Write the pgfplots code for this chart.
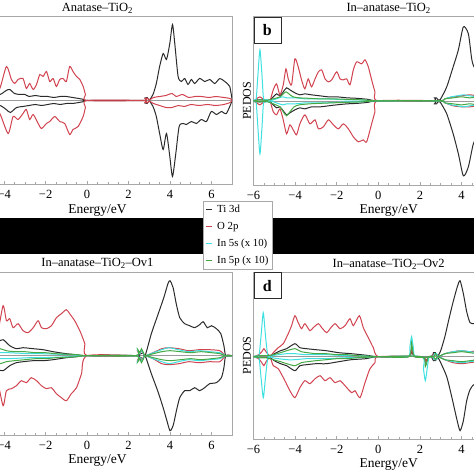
\documentclass[border=0pt]{standalone}
\usepackage{pgfplots}
\pgfplotsset{compat=1.18}
\usepackage{fontspec}
\setmainfont{Liberation Serif}

\definecolor{tiblack}{HTML}{2B2B2B}
\definecolor{ored}{HTML}{D0434F}
\definecolor{incyan}{HTML}{3FE0E0}
\definecolor{ingreen}{HTML}{45A845}
\definecolor{framegray}{HTML}{A8A8A8}
\definecolor{zerogray}{HTML}{9A9A9A}

\tikzset{
  panelbox/.style={draw=tiblack, line width=0.8pt, fill=white, anchor=north west,
    minimum width=27pt, minimum height=26pt, inner sep=0pt,
    font=\bfseries\fontsize{16}{16}\selectfont},
}
\pgfplotsset{
  ti/.style={draw=tiblack, line width=1pt, smooth, tension=0.4},
  op/.style={draw=ored, line width=1pt, smooth, tension=0.4},
  ins/.style={draw=incyan, line width=1pt, smooth, tension=0.4},
  inp/.style={draw=ingreen, line width=1pt, smooth, tension=0.4},
  zero/.style={draw=zerogray, line width=0.5pt},
  every axis title/.style={at={(axis description cs:0.5,1)}, anchor=base, yshift=5pt,
    font=\fontsize{12.5}{14}\selectfont},
  pedos/.style={
    scale only axis,
    xmin=-6, xmax=7,
    axis line style={draw=framegray, line width=0.8pt},
    ytick=\empty,
    xtick={-6,-4,...,6},
    xticklabels={−6,−4,−2,0,2,4,6},
    minor x tick num=3,
    tick align=inside,
    xtick pos=left,
    major tick length=3pt, minor tick length=2pt,
    every tick/.style={draw=framegray, line width=0.6pt},
    xticklabel style={font=\fontsize{12.5}{13}\selectfont, anchor=center, yshift=-10pt},
    xlabel={Energy/eV},
    xlabel style={font=\fontsize{13.5}{14}\selectfont, at={(axis description cs:0.5,0)}, anchor=center, yshift=-26pt},
    ylabel={PEDOS},
    ylabel style={font=\fontsize{12}{13}\selectfont, at={(axis description cs:-0.024,0.5)}, anchor=center},
    clip=true,
  },
}

\begin{document}
\begin{tikzpicture}
\useasboundingbox (0pt,0pt) rectangle (474pt,474pt);
\clip (0pt,0pt) rectangle (474pt,474pt);
\fill[black] (0pt,220pt) rectangle (474pt,256pt);

% ---------- (b) In-doped anatase ----------
\begin{axis}[pedos, at={(253.5pt,289pt)}, anchor=south west,
  width=270.4pt, height=168.3pt, ymin=-84.15, ymax=84.15,
  title={In--anatase--TiO\textsubscript{2}}]
\addplot[zero] coordinates {(-6,0) (7,0)};
% Ti 3d
\addplot[ti] coordinates {(-6,0) (-5.8,1) (-5.6,1) (-5.4,0.5) (-5.2,1) (-5.05,4) (-4.89,7) (-4.73,5) (-4.57,9) (-4.41,13) (-4.25,11) (-4.01,8) (-3.77,6) (-3.53,7) (-3.21,6) (-2.80,5) (-2.40,4) (-2.0,4) (-1.5,3) (-1.0,2.5) (-0.5,1.5) (0,0) (2.6,0) (2.7,3) (2.8,3) (2.9,0.5) (3.0,2) (3.29,14) (3.60,34) (3.85,51) (4.09,74) (4.33,67) (4.49,42) (4.6,34) (4.8,30) (5.0,33) (5.3,28) (5.6,31) (5.9,27) (6.2,29) (6.5,24) (6.8,15) (7,0)};
\addplot[ti] coordinates {(-6,0) (-5.8,-1) (-5.6,-1) (-5.4,-0.5) (-5.2,-1) (-5.05,-4) (-4.89,-7) (-4.73,-6) (-4.57,-10) (-4.41,-14) (-4.25,-12) (-4.01,-9) (-3.77,-7) (-3.53,-8) (-3.21,-6) (-2.80,-6) (-2.40,-5) (-2.0,-4) (-1.5,-3) (-1.0,-2.5) (-0.5,-1.5) (0,0) (2.6,0) (2.7,-3) (2.8,-3) (2.9,-0.5) (3.0,-2) (3.29,-13) (3.60,-33) (3.85,-53) (4.09,-75) (4.33,-66) (4.57,-43) (4.8,-36) (5.1,-38) (5.4,-33) (5.7,-35) (6.0,-30) (6.3,-32) (6.6,-22) (6.85,-10) (7,0)};
% O 2p
\addplot[op] coordinates {(-6,0) (-5.85,2) (-5.70,4) (-5.55,2) (-5.40,0.5) (-5.20,1) (-5.05,11) (-4.89,17) (-4.73,6) (-4.57,16) (-4.44,32) (-4.33,22) (-4.17,16) (-4.01,42) (-3.85,34) (-3.69,21) (-3.53,12) (-3.37,22) (-3.21,14) (-3.04,22) (-2.88,29) (-2.72,31) (-2.56,22) (-2.40,19) (-2.24,21) (-2.0,29) (-1.84,22) (-1.68,21) (-1.52,22) (-1.36,16) (-1.20,31) (-1.04,39) (-0.80,37) (-0.64,41) (-0.48,34) (-0.32,21) (-0.16,9) (0,0) (2.9,0) (3.2,2) (3.6,4) (4.0,5) (4.4,6) (4.8,5) (5.2,6) (5.6,5) (6.0,6) (6.4,4) (6.8,2) (7,0)};
\addplot[op] coordinates {(-6,0) (-5.85,-2) (-5.70,-4) (-5.55,-2) (-5.40,-0.5) (-5.20,-1) (-5.05,-11) (-4.89,-14) (-4.73,-8) (-4.57,-19) (-4.41,-33) (-4.25,-24) (-4.09,-29) (-3.93,-34) (-3.77,-23) (-3.53,-14) (-3.29,-23) (-3.04,-19) (-2.88,-28) (-2.64,-26) (-2.40,-19) (-2.16,-24) (-1.92,-28) (-1.68,-23) (-1.44,-28) (-1.20,-36) (-0.96,-41) (-0.72,-39) (-0.56,-41) (-0.32,-23) (-0.16,-11) (0,0) (2.9,0) (3.2,-2) (3.6,-5) (4.0,-6) (4.4,-6) (4.8,-5) (5.2,-6) (5.6,-5) (6.0,-5) (6.4,-4) (6.8,-2) (7,0)};
% In 5s (x 10)
\addplot[ins] coordinates {(-6,0) (-5.88,0) (-5.79,25) (-5.69,51) (-5.59,25) (-5.50,0) (-5.2,0) (-4.9,2) (-4.6,4) (-4.4,3) (-4.0,3) (-3.5,2) (-3.0,2) (-2.5,2) (-2.0,1.5) (-1.5,1) (-1.0,1) (-0.5,0.5) (0,0) (2.9,0) (3.2,2) (3.5,4) (3.8,5) (4.1,6) (4.4,5) (4.8,4) (5.2,4) (5.6,3) (6.0,3) (6.4,2) (6.8,1) (7,0)};
\addplot[ins] coordinates {(-6,0) (-5.88,0) (-5.79,-26) (-5.69,-53) (-5.59,-26) (-5.50,0) (-5.2,0) (-4.9,-2) (-4.6,-4) (-4.4,-3) (-4.0,-3) (-3.5,-2) (-3.0,-2) (-2.5,-2) (-2.0,-1.5) (-1.5,-1) (-1.0,-1) (-0.5,-0.5) (0,0) (2.9,0) (3.2,-2) (3.5,-4) (3.8,-5) (4.1,-6) (4.4,-5) (4.8,-4) (5.2,-4) (5.6,-3) (6.0,-3) (6.4,-2) (6.8,-1) (7,0)};
% In 5p (x 10)
\addplot[inp] coordinates {(-6,0) (-5.7,1) (-5.4,0.5) (-5.05,2) (-4.73,4) (-4.57,7) (-4.44,9) (-4.3,7) (-4.1,4) (-3.8,3) (-3.3,2.5) (-2.8,2) (-2.2,2) (-1.5,1.5) (-0.8,1) (0,0) (2.9,0) (3.2,2) (3.6,3) (4.0,4) (4.4,3) (4.8,4) (5.2,3) (5.6,3) (6.0,2) (6.5,2) (7,0)};
\addplot[inp] coordinates {(-6,0) (-5.7,-1) (-5.4,-0.5) (-5.05,-3) (-4.73,-6) (-4.57,-11) (-4.41,-15) (-4.25,-11) (-4.05,-6) (-3.8,-4) (-3.3,-3) (-2.8,-2.5) (-2.2,-2) (-1.5,-1.5) (-0.8,-1) (0,0) (2.9,0) (3.2,-2) (3.6,-3) (4.0,-4) (4.4,-3) (4.8,-4) (5.2,-3) (5.6,-3) (6.0,-2) (6.5,-2) (7,0)};
\node[panelbox] at (rel axis cs:0,1) {b};
\end{axis}

% ---------- (c) In-doped anatase with oxygen vacancy 1 ----------
\begin{axis}[pedos, at={(-37.3pt,39pt)}, anchor=south west,
  width=269.5pt, height=163pt, ymin=-79.3, ymax=83.7,
  title={In--anatase--TiO\textsubscript{2}--Ov1}]
\addplot[zero] coordinates {(-6,0) (7,0)};
\addplot[ti] coordinates {(-6,0) (-5.6,2) (-5.2,4) (-4.8,8) (-4.5,12) (-4.3,14) (-4.05,16) (-3.73,10) (-3.41,7) (-3.09,8) (-2.6,7) (-2.12,6) (-1.64,4) (-1.0,2) (-0.5,1) (0,0) (2.4,0) (2.5,3) (2.6,2) (2.7,3) (2.8,0) (3.1,22) (3.4,40) (3.7,58) (3.9,72) (4.0,75) (4.15,68) (4.3,52) (4.47,38) (4.71,32) (4.95,30) (5.19,28) (5.43,31) (5.6,34) (5.8,28) (6.0,30) (6.24,27) (6.45,22) (6.6,10) (6.69,0) (7,0)};
\addplot[ti] coordinates {(-6,0) (-5.6,-2) (-5.2,-5) (-4.8,-9) (-4.5,-13) (-4.3,-14) (-4.05,-15) (-3.73,-10) (-3.41,-7) (-3.09,-6) (-2.6,-5) (-2.12,-5) (-1.64,-4) (-1.0,-2) (-0.5,-1) (0,0) (2.4,0) (2.5,-3) (2.6,-2) (2.7,-3) (2.8,0) (3.1,-18) (3.42,-36) (3.67,-52) (3.85,-65) (4.0,-75) (4.15,-70) (4.31,-55) (4.47,-42) (4.71,-35) (4.95,-35) (5.19,-32) (5.43,-35) (5.67,-32) (5.91,-28) (6.23,-27) (6.48,-22) (6.6,-12) (6.69,0) (7,0)};
\addplot[op] coordinates {(-6,0) (-5.6,3) (-5.2,8) (-4.8,20) (-4.5,32) (-4.3,25) (-4.05,50) (-3.89,35) (-3.73,37) (-3.57,28) (-3.33,32) (-3.09,25) (-2.85,23) (-2.60,28) (-2.36,35) (-2.20,28) (-1.96,27) (-1.72,30) (-1.48,38) (-1.24,42) (-1.00,46) (-0.84,42) (-0.60,35) (-0.35,25) (-0.11,12) (0,0) (2.35,0) (2.45,4) (2.55,2) (2.62,5) (2.72,2) (2.8,0) (3.18,3) (3.6,7) (3.93,8) (4.43,7) (4.9,5) (5.4,6) (5.9,6) (6.4,5) (6.69,0) (7,0)};
\addplot[op] coordinates {(-6,0) (-5.6,-3) (-5.2,-8) (-4.8,-20) (-4.5,-30) (-4.3,-28) (-4.05,-50) (-3.89,-35) (-3.65,-33) (-3.41,-30) (-3.17,-25) (-2.93,-27) (-2.69,-22) (-2.44,-25) (-2.20,-30) (-1.96,-33) (-1.72,-32) (-1.48,-38) (-1.24,-42) (-1.00,-45) (-0.76,-38) (-0.51,-32) (-0.27,-18) (0,0) (2.35,0) (2.45,-4) (2.55,-2) (2.62,-5) (2.72,-2) (2.8,0) (3.18,-3) (3.6,-8) (3.93,-9) (4.43,-8) (4.9,-6) (5.4,-7) (5.9,-6) (6.4,-6) (6.69,0) (7,0)};
\addplot[ins] coordinates {(-6,0) (-5.5,1) (-5,2) (-4.6,3) (-4.2,3) (-3.8,3) (-3.3,2.5) (-2.8,2) (-2.2,2) (-1.5,1.5) (-0.8,1) (0,0) (2.35,0) (2.45,5) (2.55,2) (2.62,6) (2.72,2) (2.8,0) (3.2,3) (3.6,6) (3.95,8) (4.4,6) (4.9,4) (5.4,5) (5.9,4) (6.4,3) (6.69,0) (7,0)};
\addplot[ins] coordinates {(-6,0) (-5.5,-1) (-5,-2) (-4.6,-3) (-4.2,-3) (-3.8,-3) (-3.3,-2.5) (-2.8,-2) (-2.2,-2) (-1.5,-1.5) (-0.8,-1) (0,0) (2.35,0) (2.45,-5) (2.55,-2) (2.62,-6) (2.72,-2) (2.8,0) (3.2,-3) (3.6,-6) (3.95,-8) (4.4,-6) (4.9,-4) (5.4,-5) (5.9,-4) (6.4,-3) (6.69,0) (7,0)};
\addplot[inp] coordinates {(-6,0) (-5.5,2) (-5,4) (-4.6,6) (-4.2,7) (-3.9,5) (-3.5,4) (-3,4) (-2.5,3) (-2,3) (-1.5,2) (-1,1.5) (-0.5,1) (0,0) (2.35,0) (2.45,6) (2.55,3) (2.62,7) (2.72,3) (2.8,0) (3.2,2) (3.6,4) (4.0,5) (4.5,4) (5.0,3) (5.5,4) (6.0,3) (6.4,2) (6.69,0) (7,0)};
\addplot[inp] coordinates {(-6,0) (-5.5,-2) (-5,-4) (-4.6,-7) (-4.2,-8) (-3.9,-6) (-3.5,-5) (-3,-4) (-2.5,-3) (-2,-3) (-1.5,-2) (-1,-1.5) (-0.5,-1) (0,0) (2.35,0) (2.45,-6) (2.55,-3) (2.62,-7) (2.72,-3) (2.8,0) (3.2,-2) (3.6,-4) (4.0,-5) (4.5,-4) (5.0,-3) (5.5,-4) (6.0,-3) (6.4,-2) (6.69,0) (7,0)};
\node[panelbox] at (rel axis cs:0,1) {c};
\end{axis}

% ---------- (d) In-doped anatase with oxygen vacancy 2 ----------
\begin{axis}[pedos, at={(253.5pt,35pt)}, anchor=south west,
  width=270.4pt, height=166.7pt, ymin=-82.3, ymax=84.4,
  title={In--anatase--TiO\textsubscript{2}--Ov2}]
\addplot[zero] coordinates {(-6,0) (7,0)};
\addplot[ti] coordinates {(-6,0) (-5.7,1) (-5.4,1) (-5.2,1) (-5.0,3) (-4.7,6) (-4.41,8) (-4.01,13) (-3.77,9) (-3.45,8) (-3.0,7) (-2.5,6) (-1.9,4) (-1.3,3) (-0.6,1.5) (0,0) (1.45,0) (1.6,6) (1.75,0) (2.55,0) (2.65,4) (2.75,4) (2.85,0.5) (3.0,6) (3.2,20) (3.4,38) (3.6,55) (3.8,70) (3.93,76) (4.09,63) (4.25,45) (4.41,34) (4.6,33) (4.8,30) (5.1,32) (5.4,28) (5.7,30) (6.0,26) (6.3,27) (6.6,20) (6.85,8) (7,0)};
\addplot[ti] coordinates {(-6,0) (-5.7,-1) (-5.4,-1) (-5.2,-1) (-5.0,-4) (-4.7,-7) (-4.41,-9) (-4.01,-14) (-3.77,-9) (-3.45,-8) (-3.0,-7) (-2.5,-7) (-1.9,-5) (-1.3,-3) (-0.6,-2) (0,0) (2.1,0) (2.26,-5) (2.42,0) (2.55,0) (2.65,-4) (2.75,-4) (2.85,-0.5) (3.0,-6) (3.29,-20) (3.53,-40) (3.77,-62) (3.93,-74) (4.09,-64) (4.25,-44) (4.41,-33) (4.6,-28) (4.8,-32) (5.1,-30) (5.4,-34) (5.7,-30) (6.0,-32) (6.3,-26) (6.6,-18) (6.85,-8) (7,0)};
\addplot[op] coordinates {(-6,0) (-5.75,2) (-5.6,5) (-5.5,8) (-5.4,5) (-5.2,0.5) (-5.05,4) (-4.81,9) (-4.57,13) (-4.33,23) (-4.17,31) (-4.01,41) (-3.85,34) (-3.69,28) (-3.53,33) (-3.29,26) (-3.13,29) (-2.88,33) (-2.72,29) (-2.48,24) (-2.32,28) (-2.08,33) (-1.84,28) (-1.60,31) (-1.36,38) (-1.20,31) (-0.91,41) (-0.72,29) (-0.48,19) (-0.24,9) (0,0) (1.45,0) (1.6,8) (1.75,0) (2.5,0) (2.7,3) (2.8,3) (2.9,0) (3.2,3) (3.6,5) (4.0,6) (4.4,5) (4.8,6) (5.2,5) (5.6,5) (6.0,4) (6.4,3) (6.8,2) (7,0)};
\addplot[op] coordinates {(-6,0) (-5.75,-2) (-5.6,-6) (-5.5,-9) (-5.4,-5) (-5.2,-1) (-5.05,-9) (-4.81,-12) (-4.49,-24) (-4.25,-34) (-4.01,-41) (-3.77,-31) (-3.53,-24) (-3.29,-27) (-3.04,-22) (-2.80,-19) (-2.56,-24) (-2.32,-21) (-2.08,-26) (-1.84,-24) (-1.60,-29) (-1.28,-36) (-1.12,-34) (-0.88,-41) (-0.64,-26) (-0.40,-12) (-0.16,-6) (0,0) (2.1,0) (2.26,-6) (2.42,0) (2.6,0) (2.7,-3) (2.8,-3) (2.9,0) (3.2,-3) (3.6,-6) (4.0,-7) (4.4,-6) (4.8,-5) (5.2,-6) (5.6,-5) (6.0,-4) (6.4,-3) (6.8,-2) (7,0)};
\addplot[ins] coordinates {(-6,0) (-5.75,0) (-5.64,20) (-5.53,44) (-5.42,20) (-5.3,0) (-5.1,1) (-4.8,2) (-4.4,3) (-4.0,3) (-3.5,2) (-3.0,2) (-2.5,2) (-2,1.5) (-1.5,1) (-1,1) (-0.5,0.5) (0,0) (1.42,0) (1.52,10) (1.6,20) (1.68,10) (1.78,0) (2.6,0) (2.7,3) (2.8,3) (2.9,0) (3.2,3) (3.6,5) (4.0,6) (4.4,5) (4.8,4) (5.2,4) (5.6,3) (6.0,3) (6.4,2) (6.8,1) (7,0)};
\addplot[ins] coordinates {(-6,0) (-5.75,0) (-5.64,-20) (-5.53,-41) (-5.42,-20) (-5.3,0) (-5.1,-1) (-4.8,-2) (-4.4,-3) (-4.0,-3) (-3.5,-2) (-3.0,-2) (-2.5,-2) (-2,-1.5) (-1.5,-1) (-1,-1) (-0.5,-0.5) (0,0) (2.08,0) (2.17,-12) (2.26,-24) (2.35,-12) (2.44,0) (2.6,0) (2.7,-3) (2.8,-3) (2.9,0) (3.2,-3) (3.6,-5) (4.0,-6) (4.4,-5) (4.8,-4) (5.2,-4) (5.6,-3) (6.0,-3) (6.4,-2) (6.8,-1) (7,0)};
\addplot[inp] coordinates {(-6,0) (-5.7,1) (-5.4,1) (-5.05,2) (-4.7,4) (-4.4,6) (-4.01,8) (-3.7,5) (-3.4,4) (-3.0,3) (-2.5,3) (-2,2) (-1.5,2) (-1,1) (-0.5,0.5) (0,0) (1.45,0) (1.6,14) (1.75,0) (2.65,0) (2.75,3) (2.85,0) (3.2,3) (3.6,4) (4.0,5) (4.4,4) (4.8,3) (5.2,3) (5.6,3) (6.0,2) (6.5,2) (7,0)};
\addplot[inp] coordinates {(-6,0) (-5.7,-1) (-5.4,-1) (-5.05,-3) (-4.7,-5) (-4.4,-7) (-4.01,-9) (-3.7,-6) (-3.4,-5) (-3.0,-4) (-2.5,-3) (-2,-2) (-1.5,-2) (-1,-1) (-0.5,-0.5) (0,0) (2.1,0) (2.26,-10) (2.42,0) (2.65,0) (2.75,-3) (2.85,0) (3.2,-3) (3.6,-4) (4.0,-5) (4.4,-4) (4.8,-3) (5.2,-3) (5.6,-3) (6.0,-2) (6.5,-2) (7,0)};
\node[panelbox] at (rel axis cs:0,1) {d};
\end{axis}

% ---------- (a) pristine anatase, carries the shared legend ----------
\begin{axis}[pedos, at={(-37.3pt,289.7pt)}, anchor=south west,
  width=269.5pt, height=167.6pt, ymin=-83.8, ymax=83.8,
  title={Anatase--TiO\textsubscript{2}},
  legend style={at={(axis description cs:0.892,-0.0996)}, anchor=north west,
    draw=framegray, line width=0.6pt, fill=white,
    font=\fontsize{10.8}{12}\selectfont, row sep=4pt,
    inner xsep=2pt, inner ysep=2pt,
    /tikz/every odd column/.append style={column sep=3pt}},
  legend cell align=left,
  legend image code/.code={\draw[#1, line width=0.8pt] (0pt,0pt) -- (6pt,0pt);}]
\addplot[zero, forget plot] coordinates {(-6,0) (7,0)};
\addplot[ti, forget plot] coordinates {(-6,0) (-5.6,2) (-5.2,4) (-4.8,6) (-4.5,8) (-4.2,6) (-3.9,10) (-3.73,11) (-3.5,7) (-3.25,6) (-3.0,6) (-2.8,4) (-2.5,5) (-2.2,4) (-1.9,4) (-1.6,3) (-1.3,4) (-1.0,4) (-0.7,3) (-0.4,2) (-0.15,1) (0,0) (2.7,0) (2.8,2.5) (2.9,3) (3.0,0.5) (3.18,6) (3.34,17) (3.50,34) (3.67,47) (3.83,41) (3.99,57) (4.12,76) (4.23,57) (4.39,24) (4.55,19) (4.71,22) (4.87,16) (5.03,21) (5.19,17) (5.43,22) (5.68,19) (5.92,21) (6.16,17) (6.40,22) (6.64,19) (6.88,14) (7.0,0)};
\addplot[ti, forget plot] coordinates {(-6,0) (-5.6,-2) (-5.2,-4) (-4.8,-6) (-4.5,-7) (-4.2,-5) (-3.9,-9) (-3.7,-12) (-3.4,-7) (-3.1,-6) (-2.8,-5) (-2.5,-4) (-2.2,-5) (-1.9,-4) (-1.6,-3) (-1.3,-4) (-1.0,-3) (-0.7,-3) (-0.4,-2) (-0.15,-1) (0,0) (2.7,0) (2.8,-2.5) (2.9,-3) (3.0,-0.5) (3.18,-6) (3.34,-16) (3.50,-33) (3.67,-49) (3.83,-33) (3.99,-56) (4.12,-76) (4.28,-53) (4.44,-26) (4.63,-23) (4.79,-24) (5.03,-21) (5.27,-23) (5.51,-19) (5.76,-21) (5.99,-11) (6.24,-14) (6.48,-11) (6.72,-13) (7.0,0)};
\addplot[op, forget plot] coordinates {(-6,0) (-5.5,3) (-5.0,8) (-4.6,14) (-4.4,18) (-4.21,12) (-3.89,34) (-3.65,21) (-3.49,17) (-3.33,21) (-3.09,22) (-2.93,12) (-2.77,17) (-2.60,11) (-2.44,16) (-2.28,26) (-2.12,24) (-1.96,29) (-1.80,19) (-1.64,22) (-1.48,14) (-1.32,21) (-1.16,22) (-1.00,19) (-0.84,34) (-0.68,29) (-0.51,24) (-0.35,21) (-0.19,14) (-0.08,6) (0,0) (2.7,0) (2.8,2) (2.9,2.5) (3.0,0.5) (3.2,3) (3.5,4) (3.8,5) (4.1,7) (4.3,4) (4.6,6) (4.9,3) (5.2,4) (5.5,4) (5.9,3) (6.2,4) (6.6,3) (6.9,2) (7.0,0)};
\addplot[op, forget plot] coordinates {(-6,0) (-5.5,-3) (-5.0,-8) (-4.6,-14) (-4.4,-16) (-4.21,-13) (-3.81,-33) (-3.57,-16) (-3.33,-19) (-3.09,-13) (-2.93,-9) (-2.77,-19) (-2.60,-14) (-2.36,-23) (-2.20,-28) (-1.96,-23) (-1.80,-21) (-1.56,-16) (-1.32,-21) (-1.08,-23) (-0.84,-34) (-0.68,-29) (-0.43,-26) (-0.19,-16) (-0.08,-7) (0,0) (2.7,0) (2.8,-2) (2.9,-2.5) (3.0,-0.5) (3.2,-3) (3.5,-5) (3.8,-7) (4.1,-7) (4.4,-5) (4.7,-6) (5.0,-4) (5.4,-5) (5.8,-4) (6.2,-5) (6.6,-4) (6.9,-2) (7.0,0)};
\node[panelbox] at (rel axis cs:0,1) {a};
\addlegendimage{draw=tiblack}
\addlegendentry{Ti 3d}
\addlegendimage{draw=ored}
\addlegendentry{O 2p}
\addlegendimage{draw=incyan}
\addlegendentry{In 5s (x 10)}
\addlegendimage{draw=ingreen}
\addlegendentry{In 5p (x 10)}
\end{axis}
\end{tikzpicture}
\end{document}
